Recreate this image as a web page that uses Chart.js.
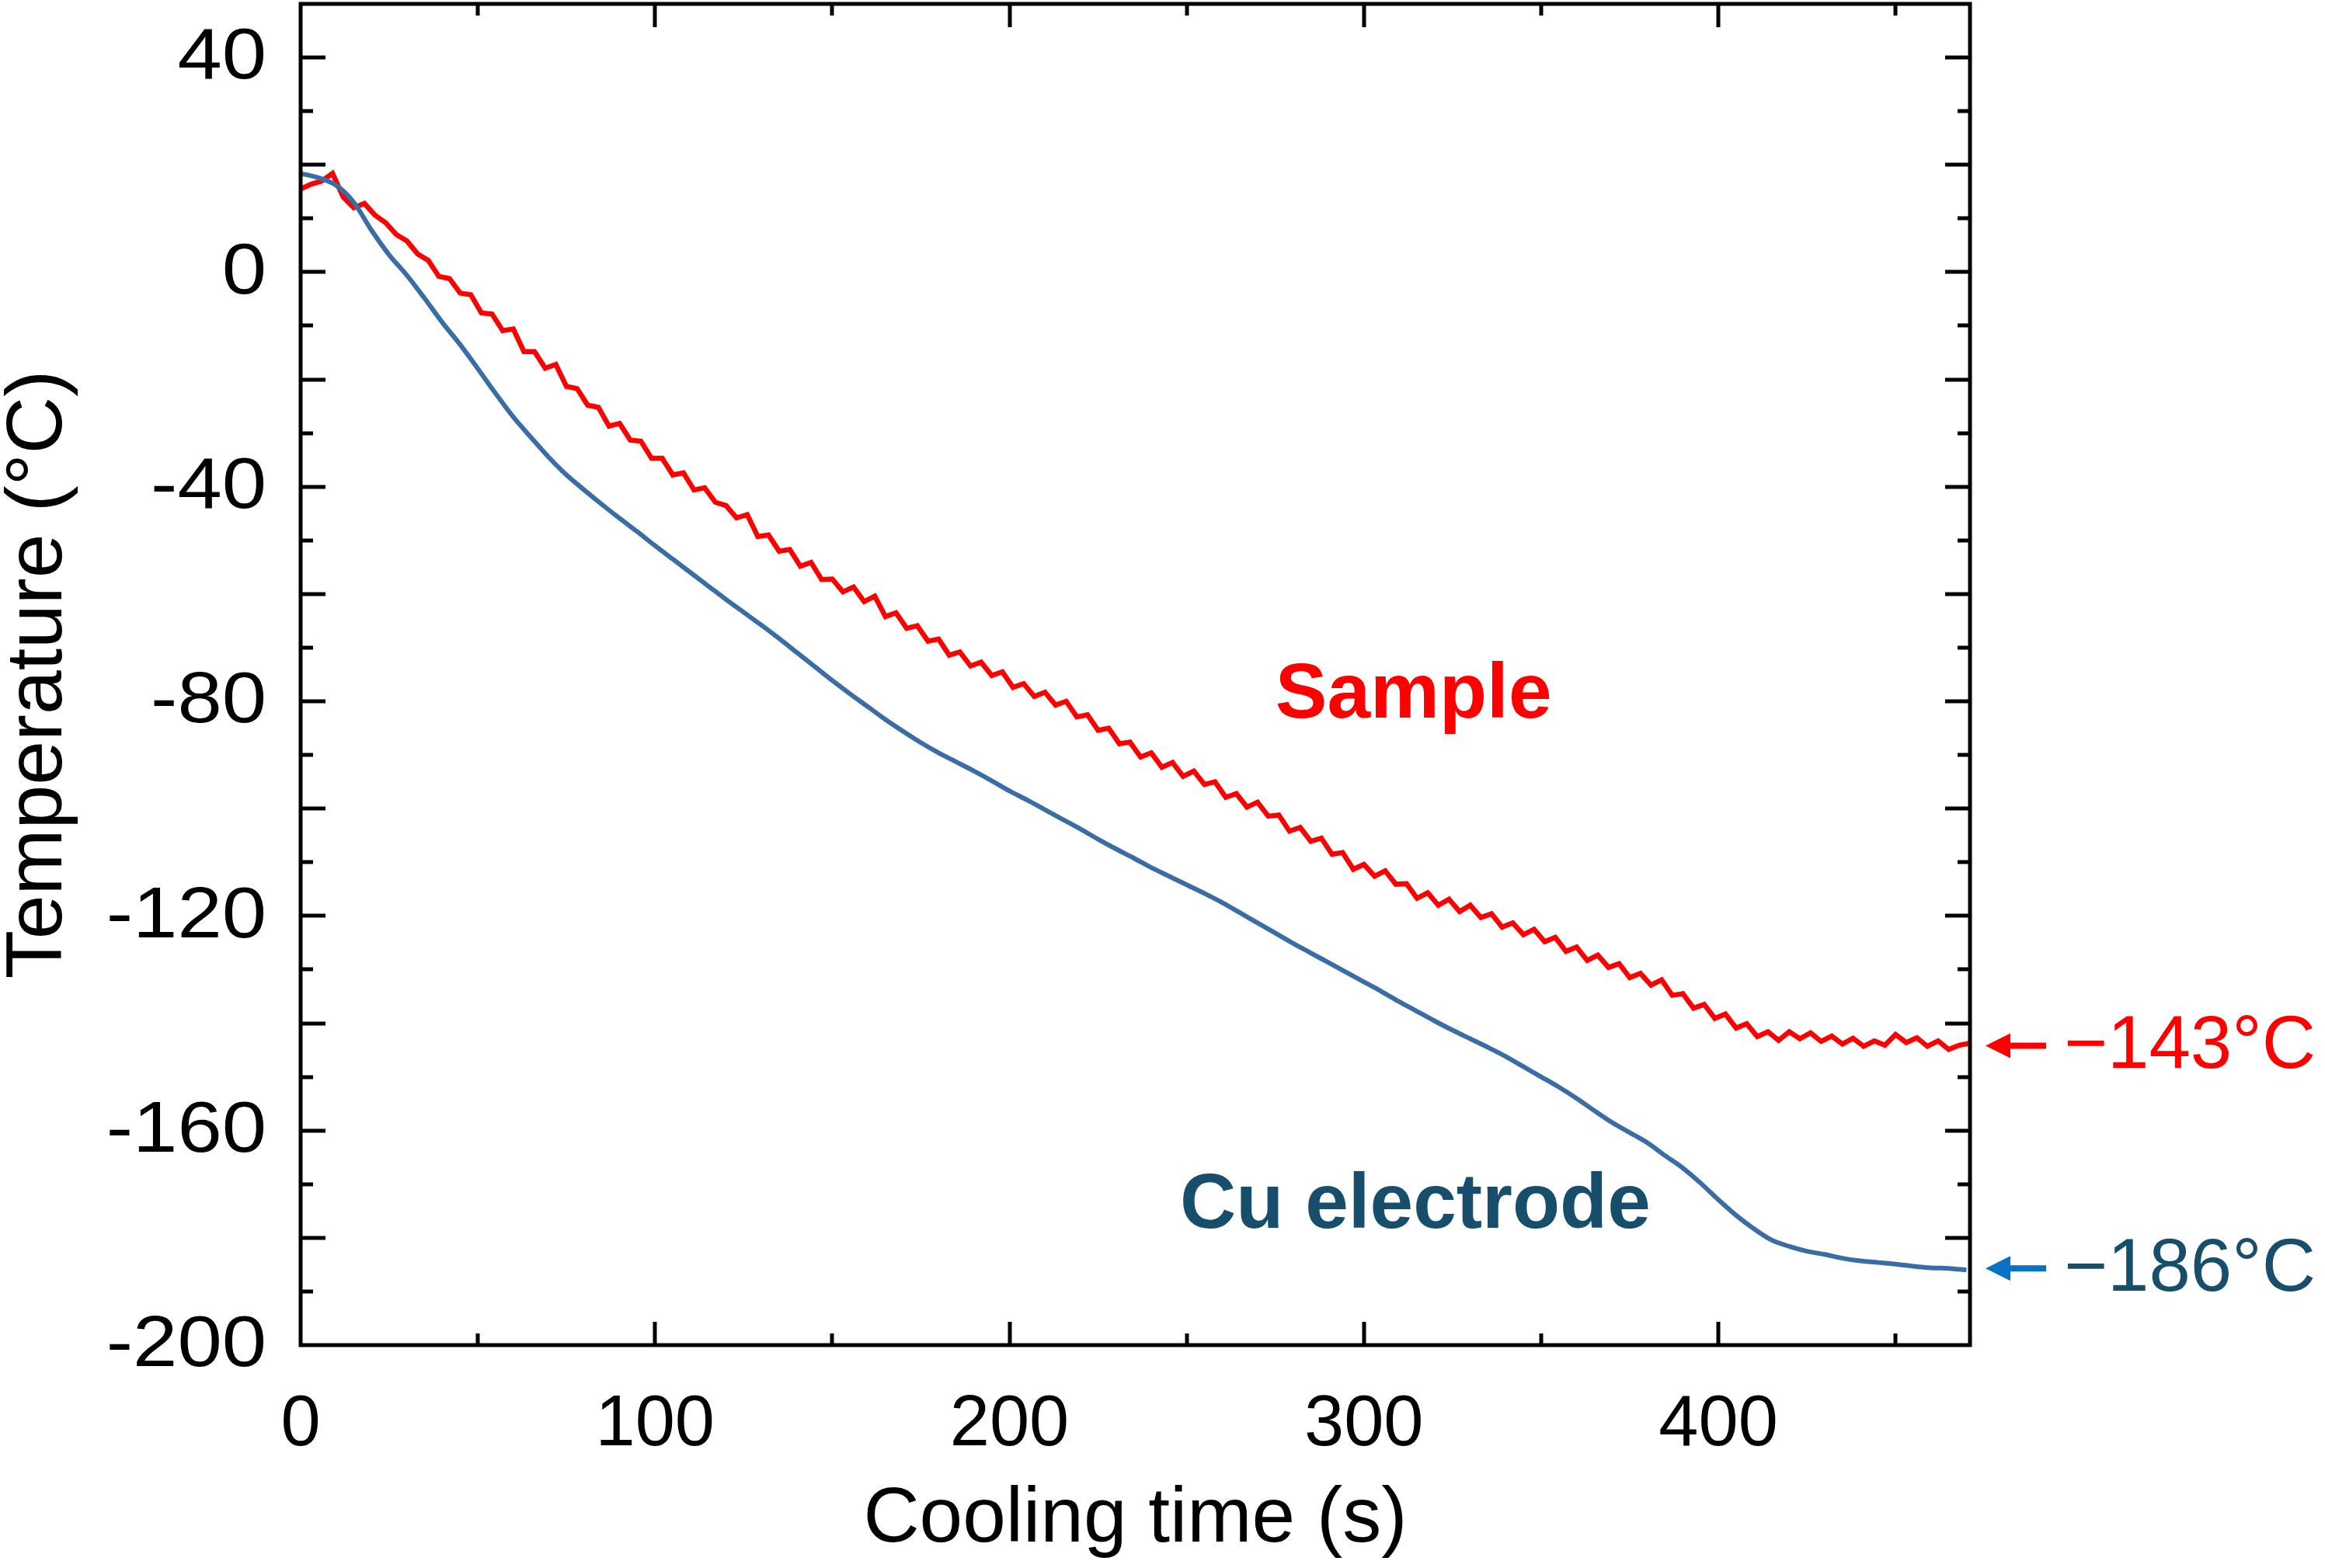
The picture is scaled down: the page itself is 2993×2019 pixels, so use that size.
<!DOCTYPE html>
<html>
<head>
<meta charset="utf-8">
<script src="https://cdn.jsdelivr.net/npm/chart.js@4.4.1/dist/chart.umd.min.js"></script>
<style>
  html, body { margin: 0; padding: 0; background: #fff; }
  canvas { display: block; }
</style>
</head>
<body>
<canvas id="coolingChart" width="2993" height="2019"></canvas>
<script>
// values
const sampleTime = [
  0, 3, 6, 9, 12, 15, 18, 21, 24, 27,
  30, 33, 36, 39, 42, 45, 48, 51, 54, 57,
  60, 63, 66, 69, 72, 75, 78, 81, 84, 87,
  90, 93, 96, 99, 102, 105, 108, 111, 114, 117,
  120, 123, 126, 129, 132, 135, 138, 141, 144, 147,
  150, 153, 156, 159, 162, 165, 168, 171, 174, 177,
  180, 183, 186, 189, 192, 195, 198, 201, 204, 207,
  210, 213, 216, 219, 222, 225, 228, 231, 234, 237,
  240, 243, 246, 249, 252, 255, 258, 261, 264, 267,
  270, 273, 276, 279, 282, 285, 288, 291, 294, 297,
  300, 303, 306, 309, 312, 315, 318, 321, 324, 327,
  330, 333, 336, 339, 342, 345, 348, 351, 354, 357,
  360, 363, 366, 369, 372, 375, 378, 381, 384, 387,
  390, 393, 396, 399, 402, 405, 408, 411, 414, 417,
  420, 423, 426, 429, 432, 435, 438, 441, 444, 447,
  450, 453, 456, 459, 462, 465, 468, 471
];
const sampleTemp = [
  15.5, 16.4, 17.0, 18.4, 14.0, 12.0, 12.8, 10.6, 9.2, 7.0,
  5.8, 3.4, 2.2, -0.8, -1.2, -3.9, -4.2, -7.6, -7.8, -10.9,
  -10.6, -14.8, -14.8, -17.9, -17.2, -21.3, -21.7, -24.8, -25.2, -28.7,
  -28.2, -31.3, -31.5, -34.7, -34.7, -37.8, -37.4, -40.6, -40.2, -42.9,
  -43.5, -45.8, -45.2, -49.3, -49.0, -52.0, -51.7, -54.8, -54.1, -57.3,
  -57.2, -59.6, -58.7, -61.4, -60.4, -64.2, -63.5, -66.4, -65.9, -68.8,
  -68.4, -71.4, -70.8, -73.4, -72.7, -75.2, -74.5, -77.4, -76.7, -79.1,
  -78.3, -80.7, -80.0, -82.9, -82.5, -85.4, -85.0, -87.9, -87.6, -90.4,
  -89.6, -92.3, -91.4, -94.0, -93.0, -95.5, -95.0, -97.9, -97.2, -99.7,
  -98.8, -101.4, -101.2, -104.2, -103.5, -106.1, -105.5, -108.5, -108.2, -111.3,
  -110.4, -112.6, -111.6, -114.1, -114.0, -116.7, -115.7, -118.0, -116.9, -119.2,
  -118.0, -120.3, -119.6, -122.1, -121.3, -123.5, -122.5, -124.8, -124.0, -126.6,
  -125.8, -128.3, -127.3, -129.6, -128.9, -131.5, -130.7, -132.9, -131.9, -134.8,
  -134.5, -137.2, -136.5, -139.1, -138.3, -140.9, -140.1, -142.5, -141.6, -143.2,
  -141.6, -142.9, -141.8, -143.4, -142.4, -143.9, -142.8, -144.3, -143.3, -144.1,
  -142.1, -143.6, -142.7, -144.3, -143.3, -144.9, -144.1, -143.7
];

const electrodeTime = [
  0, 5, 10, 15, 20, 25, 30, 35, 40, 45,
  50, 55, 60, 65, 70, 75, 80, 85, 90, 95,
  100, 105, 110, 115, 120, 125, 130, 135, 140, 145,
  150, 155, 160, 165, 170, 175, 180, 185, 190, 195,
  200, 205, 210, 215, 220, 225, 230, 235, 240, 245,
  250, 255, 260, 265, 270, 275, 280, 285, 290, 295,
  300, 305, 310, 315, 320, 325, 330, 335, 340, 345,
  350, 355, 360, 365, 370, 375, 380, 385, 390, 395,
  400, 405, 410, 415, 420, 425, 430, 435, 440, 445,
  450, 455, 460, 465, 470
];
const electrodeTemp = [
  18.4, 17.6, 16.2, 13.0, 7.8, 3.2, -0.6, -4.9, -9.4, -13.5,
  -18.0, -22.6, -27.0, -30.8, -34.5, -37.8, -40.6, -43.3, -45.9, -48.4,
  -51.0, -53.5, -56.0, -58.5, -61.0, -63.4, -65.8, -68.3, -70.9, -73.5,
  -76.1, -78.6, -81.0, -83.4, -85.6, -87.7, -89.6, -91.3, -93.0, -94.8,
  -96.7, -98.4, -100.2, -102.0, -103.8, -105.7, -107.5, -109.2, -111.0, -112.6,
  -114.2, -115.8, -117.5, -119.4, -121.3, -123.2, -125.1, -126.9, -128.7, -130.5,
  -132.3, -134.1, -136.0, -137.8, -139.6, -141.3, -142.9, -144.5, -146.2, -148.1,
  -150.0, -151.9, -154.0, -156.3, -158.5, -160.4, -162.3, -164.7, -167.0, -169.8,
  -172.9, -175.8, -178.3, -180.4, -181.6, -182.5, -183.1, -183.8, -184.3, -184.6,
  -184.9, -185.3, -185.6, -185.7, -186.0
];

const seriesNames = ['Sample', 'Cu electrode'];
const endLabels = ['\u2212143\u00B0C', '\u2212186\u00B0C'];
const xTickValues = [0, 100, 200, 300, 400];
const yTickValues = [-200, -160, -120, -80, -40, 0, 40];

const RED = '#FF0000';
const LINE_BLUE = '#3A6DA6';
const TEXT_BLUE = '#164E6B';
const ARROW_BLUE = '#0A72C6';
const FONT = '"Liberation Sans", Arial, sans-serif';

const toPoints = (xs, ys) => xs.map((t, i) => ({ x: t, y: ys[i] }));

// box with inward ticks on all four sides, wide y labels, and the text notes
const framePlugin = {
  id: 'frame',
  afterDraw(chart) {
    const { ctx, chartArea: a, scales: { x, y } } = chart;
    ctx.save();
    ctx.strokeStyle = '#000';
    ctx.lineWidth = 5;
    ctx.lineCap = 'square';
    ctx.strokeRect(a.left, a.top, a.right - a.left, a.bottom - a.top);

    ctx.lineCap = 'butt';
    ctx.beginPath();
    for (let v = -190; v <= 40; v += 10) {
      const py = Math.round(y.getPixelForValue(v));
      const len = v % 20 === 0 ? 32 : 16;
      ctx.moveTo(a.left, py); ctx.lineTo(a.left + len, py);
      ctx.moveTo(a.right, py); ctx.lineTo(a.right - len, py);
    }
    for (let v = 50; v <= 450; v += 50) {
      const px = Math.round(x.getPixelForValue(v));
      const len = v % 100 === 0 ? 30 : 15;
      ctx.moveTo(px, a.bottom); ctx.lineTo(px, a.bottom - len);
      ctx.moveTo(px, a.top); ctx.lineTo(px, a.top + len);
    }
    ctx.stroke();

    // y tick labels, a little stretched sideways like the original
    ctx.fillStyle = '#000';
    ctx.font = '92px ' + FONT;
    ctx.textAlign = 'right';
    ctx.textBaseline = 'middle';
    yTickValues.forEach(v => {
      ctx.save();
      ctx.translate(a.left - 44, y.getPixelForValue(v) + 2);
      ctx.scale(1.12, 1);
      ctx.fillText(String(v), 0, 0);
      ctx.restore();
    });

    // series names
    ctx.textAlign = 'center';
    ctx.font = 'bold 100px ' + FONT;
    ctx.fillStyle = RED;
    ctx.fillText(seriesNames[0], x.getPixelForValue(314), y.getPixelForValue(-79));
    ctx.fillStyle = TEXT_BLUE;
    ctx.fillText(seriesNames[1], x.getPixelForValue(314.5), y.getPixelForValue(-174.2));

    // end-value arrows outside the box
    const arrowAt = [-144.2, -185.7];
    const arrowColors = [RED, ARROW_BLUE];
    const textColors = [RED, TEXT_BLUE];
    ctx.textAlign = 'left';
    ctx.font = '96px ' + FONT;
    arrowAt.forEach((v, i) => {
      const py = y.getPixelForValue(v);
      const tip = a.right + 20;
      ctx.fillStyle = arrowColors[i];
      ctx.beginPath();
      ctx.moveTo(tip, py);
      ctx.lineTo(tip + 32, py - 16);
      ctx.lineTo(tip + 32, py + 16);
      ctx.closePath();
      ctx.fill();
      ctx.fillRect(tip + 30, py - 4, 48, 8);
      ctx.fillStyle = textColors[i];
      ctx.fillText(endLabels[i], a.right + 121, py + 2);
    });
    ctx.restore();
  }
};

const ctx = document.getElementById('coolingChart').getContext('2d');

const coolingChart = new Chart(ctx, {
  type: 'line',
  data: {
    datasets: [
      {
        label: seriesNames[1],
        data: toPoints(electrodeTime, electrodeTemp),
        borderColor: LINE_BLUE,
        borderWidth: 6,
        pointRadius: 0,
        tension: 0.3
      },
      {
        label: seriesNames[0],
        data: toPoints(sampleTime, sampleTemp),
        borderColor: RED,
        borderWidth: 6.5,
        pointRadius: 0,
        tension: 0
      }
    ]
  },
  options: {
    responsive: false,
    animation: false,
    devicePixelRatio: 1,
    layout: { padding: { top: 5, right: 457, left: 0, bottom: 0 } },
    plugins: { legend: { display: false }, tooltip: { enabled: false } },
    scales: {
      x: {
        type: 'linear',
        min: 0,
        max: 471,
        afterBuildTicks: scale => { scale.ticks = xTickValues.map(v => ({ value: v })); },
        afterFit: scale => { scale.height = 287; scale.paddingLeft = 0; scale.paddingRight = 0; },
        grid: { display: false, drawTicks: false },
        border: { display: false },
        ticks: { color: '#000', padding: 48, maxRotation: 0, font: { family: FONT, size: 92 } },
        title: {
          display: true,
          text: 'Cooling time (s)',
          color: '#000',
          padding: { top: 0, bottom: 12 },
          font: { family: FONT, size: 100, lineHeight: 1 }
        }
      },
      y: {
        type: 'linear',
        min: -200,
        max: 50,
        afterBuildTicks: scale => { scale.ticks = yTickValues.map(v => ({ value: v })); },
        afterFit: scale => { scale.width = 387; scale.paddingTop = 0; scale.paddingBottom = 0; },
        grid: { display: false, drawTicks: false },
        border: { display: false },
        ticks: { display: false },
        title: {
          display: true,
          text: 'Temperature (\u00B0C)',
          color: '#000',
          padding: { top: 0, bottom: 0 },
          font: { family: FONT, size: 102, lineHeight: 1 }
        }
      }
    }
  },
  plugins: [framePlugin]
});
</script>
</body>
</html>
